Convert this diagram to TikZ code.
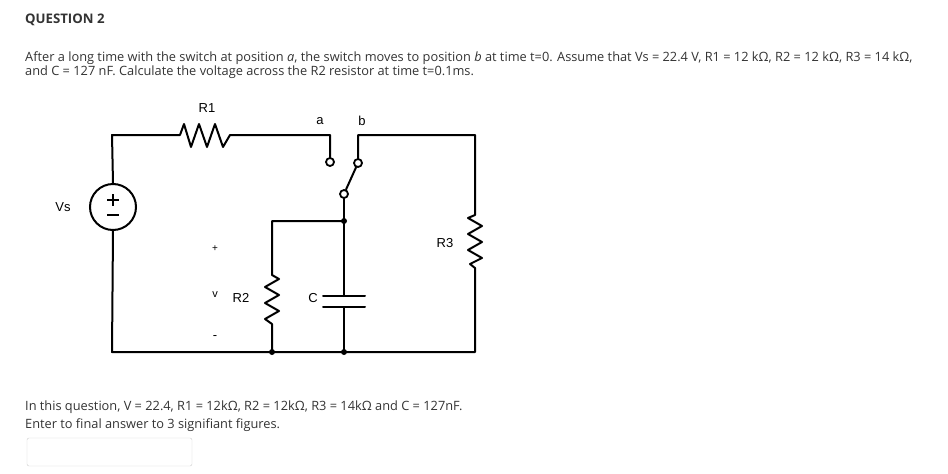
\documentclass[tikz,border=0pt]{standalone}
\usepackage{fontspec}
\setmainfont{Open Sans}
\newfontfamily\arial{Liberation Sans}
\begin{document}
\begin{tikzpicture}[x=1pt,y=-1pt,
  wire/.style={line width=2pt,line cap=round,line join=round},
  term/.style={circle,draw,line width=1.8pt,fill=white,inner sep=0pt,minimum size=8pt},
  jdot/.style={circle,fill=black,inner sep=0pt,minimum size=6pt},
  txt/.style={anchor=west,inner sep=0pt,font=\fontsize{12.8}{15}\selectfont,text=black!80},
  lab/.style={inner sep=0pt,font=\arial\fontsize{13}{15}\selectfont}]
\useasboundingbox (0,0) rectangle (948,474);
\node[txt,font=\bfseries\fontsize{13.2}{15}\selectfont] (q) at (25,20) {QUESTION 2};
\node[txt] (p1) at (25,58) {After a long time with the switch at position \textit{a}, the switch moves to position \textit{b} at time t=0. Assume that Vs = 22.4 V, R1 = 12 kΩ, R2 = 12 kΩ, R3 = 14 kΩ,};
\node[txt] (p2) at (25,72) {and C = 127 nF. Calculate the voltage across the R2 resistor at time t=0.1ms.};
\node[txt] (p3) at (25,407) {In this question, V = 22.4, R1 = 12kΩ, R2 = 12kΩ, R3 = 14kΩ and C = 127nF.};
\node[txt] (p4) at (25,425) {Enter to final answer to 3 signifiant figures.};
\draw[black!20,rounded corners=2pt] (27,438) rectangle (192,466);
% circuit
\coordinate (tl) at (112,135); \coordinate (bl) at (112,352);
\coordinate (tr) at (475,135); \coordinate (br) at (475,352);
\node[circle,draw,line width=2pt,minimum size=46pt,inner sep=0pt] (vs) at (113,207) {};
\draw[line width=2pt] (107,200)--(119,200) (113,194)--(113,206) (107,215)--(119,215);
\draw[wire] (vs.north) -- (tl) -- (180,135) -- (184,124) -- (191,147) -- (199,124) -- (207,147) -- (215,124) -- (223,147) -- (230,135) -- (233,135) -- (330,135) -- (330,158);
\draw[wire] (vs.south) -- (bl) -- (br) -- (475,268) -- (470,264) -- (482,258) -- (468,250) -- (482,242) -- (468,234) -- (482,226) -- (468,218) -- (475,215) -- (tr) -- (358,135) -- (358,159);
\node[term] (a) at (330,162) {};
\node[term] (b) at (358,163) {};
\node[term] (pv) at (344,194) {};
\draw[wire] (pv) -- (b);
\coordinate (j) at (344,221);
\draw[wire] (pv) -- (j) -- (344,296);
\draw[wire] (323,296) -- (365,296) (323,307) -- (365,307);
\draw[wire] (344,307) -- (344,352);
\draw[wire] (j) -- (272,221) -- (272,275) -- (279,279) -- (265,287) -- (279,295) -- (265,303) -- (279,311) -- (265,319) -- (272,324) -- (272,352);
\node[jdot] (j1) at (j) {};
\node[jdot] (j2) at (272,352) {};
\node[jdot] (j3) at (344,352) {};
\node[lab] (lr1) at (207,108) {R1};
\node[lab] (la) at (320,121) {a};
\node[lab] (lb) at (362,121) {b};
\node[lab] (lvs) at (63,207) {Vs};
\node[lab,font=\arial\fontsize{10}{12}\selectfont] (lp) at (215,249) {+};
\node[lab,font=\arial\fontsize{11}{12}\selectfont] (lv) at (215,295) {v};
\node[lab] (lm) at (215,338) {-};
\node[lab] (lr2) at (241,298) {R2};
\node[lab] (lc) at (313,298) {C};
\node[lab] (lr3) at (445,243) {R3};
\end{tikzpicture}
\end{document}
